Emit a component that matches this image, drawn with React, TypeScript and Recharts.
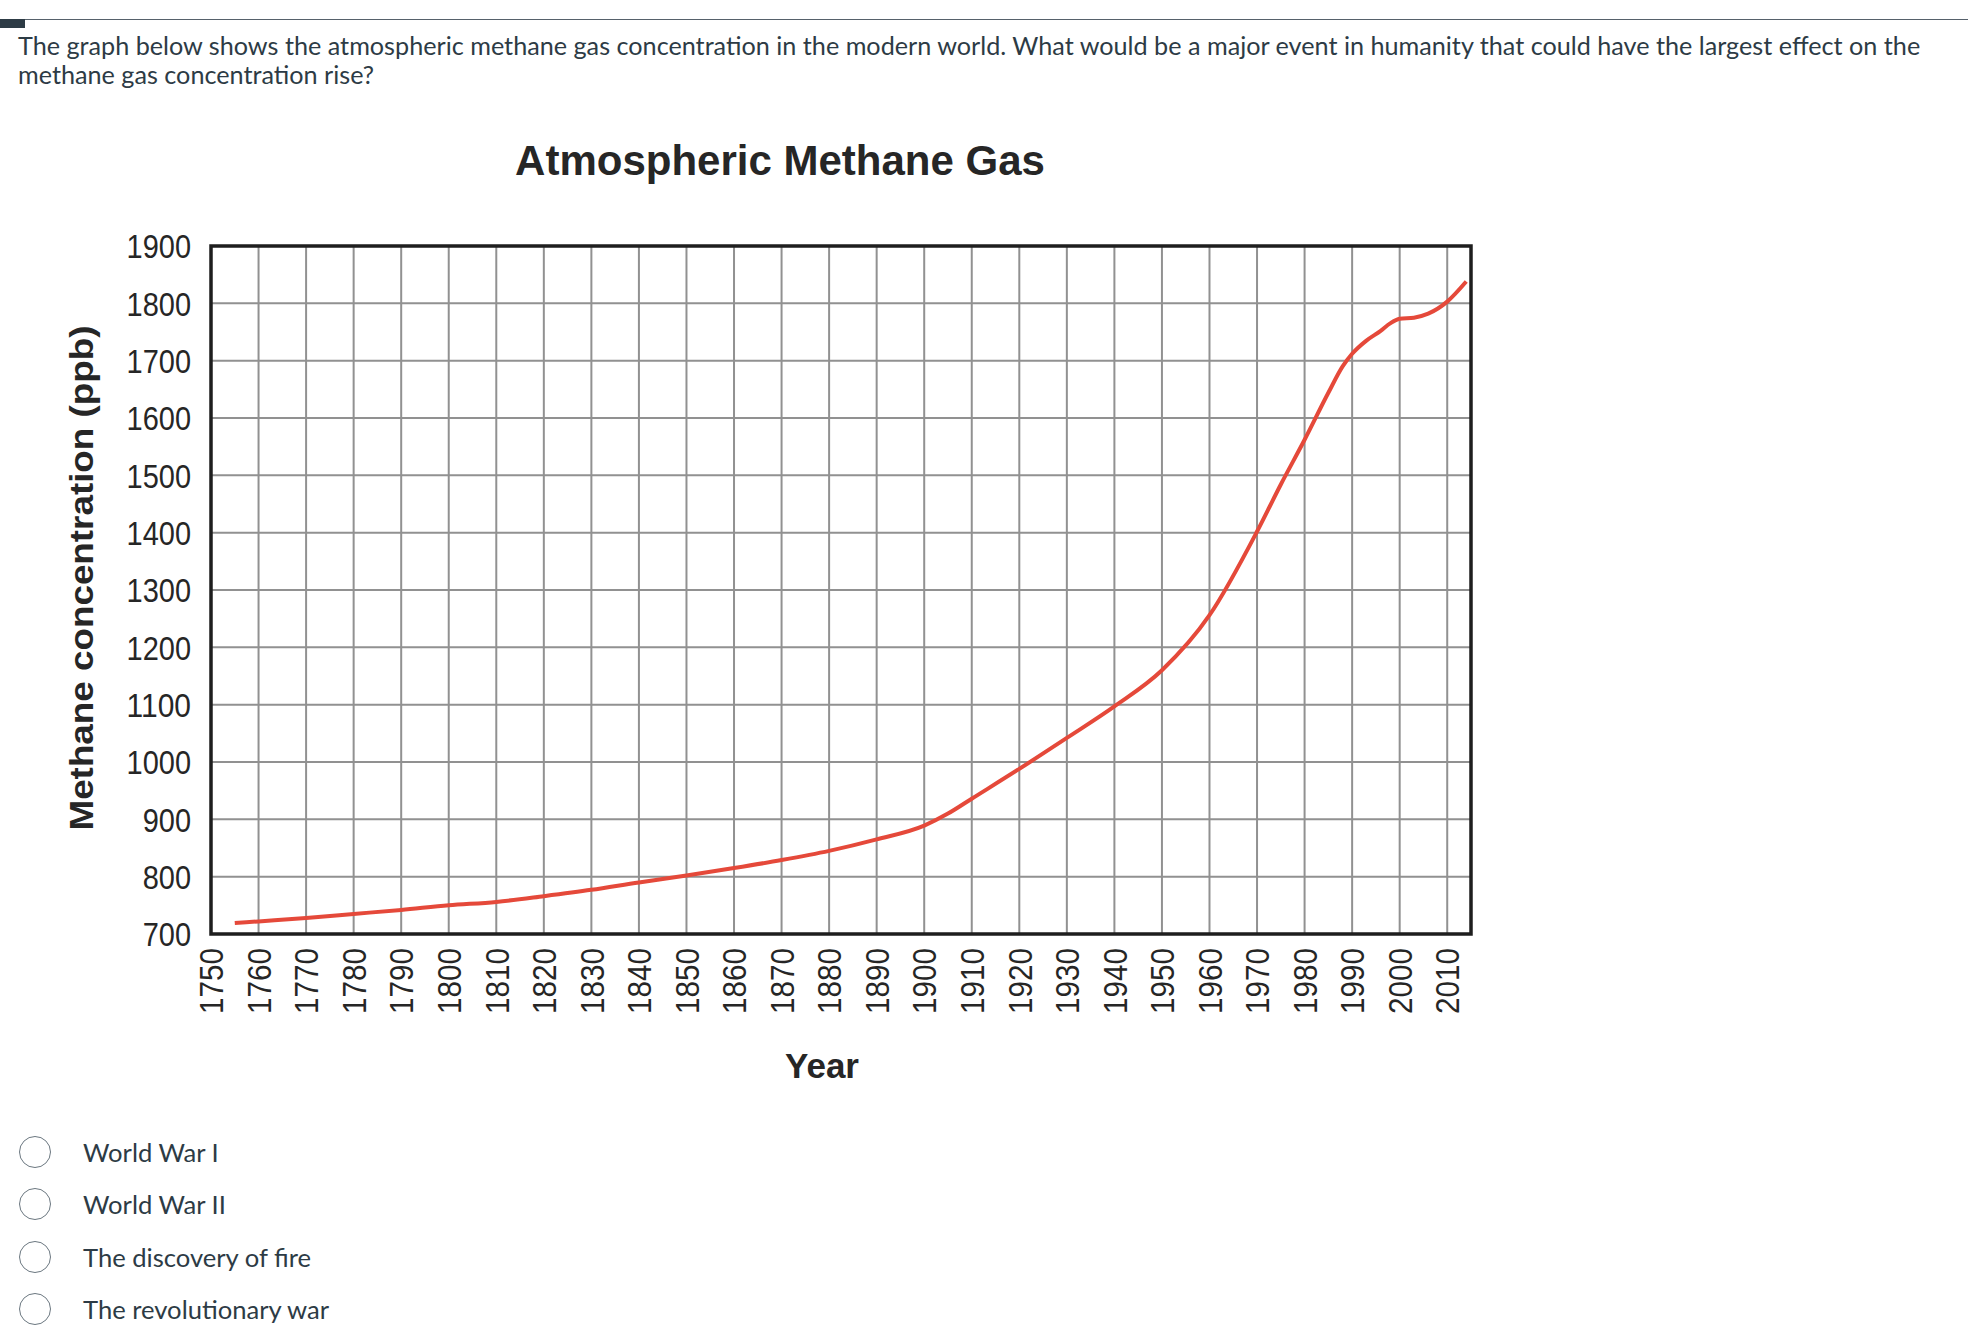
import React from 'react';
import { LineChart, Line, XAxis, YAxis, CartesianGrid, ReferenceArea, Label } from 'recharts';

// methane readings
const years = [1755, 1760, 1770, 1780, 1790, 1800, 1810, 1820, 1830, 1840, 1850, 1860, 1870, 1880, 1890, 1900, 1905, 1910, 1920, 1930, 1940, 1950, 1960, 1970, 1975, 1980, 1985, 1988, 1990, 1993, 1996, 1998, 2000, 2003, 2006, 2010, 2014];
const methane = [719, 722, 728, 735, 742, 750, 756, 766, 777, 790, 802, 815, 829, 845, 865, 889, 910, 936, 988, 1042, 1097, 1160, 1256, 1402, 1484, 1562, 1644, 1690, 1712, 1735, 1752, 1765, 1773, 1775, 1782, 1803, 1838];

const yearTicks = [1750, 1760, 1770, 1780, 1790, 1800, 1810, 1820, 1830, 1840, 1850, 1860, 1870, 1880, 1890, 1900, 1910, 1920, 1930, 1940, 1950, 1960, 1970, 1980, 1990, 2000, 2010];
const ppbTicks = [700, 800, 900, 1000, 1100, 1200, 1300, 1400, 1500, 1600, 1700, 1800, 1900];

const answers = ['World War I', 'World War II', 'The discovery of fire', 'The revolutionary war'];

const data = years.map((t, i) => ({ t, v: methane[i] }));

const ink = '#2d3b45';
const chartFont = '"Liberation Sans", Arial, Helvetica, sans-serif';
const labelInk = '#262626';

function YTick({ x, y, payload }: any) {
  const s = String(payload.value);
  return (
    <text x={x} y={y} dy="0.36em" textAnchor="end" fontFamily={chartFont} fontSize={34} fill={labelInk}
      textLength={s.length * 16.1} lengthAdjust="spacingAndGlyphs">{s}</text>
  );
}

function XTick({ x, y, payload }: any) {
  const s = String(payload.value);
  return (
    <text x={x} y={y} dy="0.36em" textAnchor="end" transform={`rotate(-90 ${x} ${y})`} fontFamily={chartFont}
      fontSize={34} fill={labelInk} textLength={s.length * 16.5} lengthAdjust="spacingAndGlyphs">{s}</text>
  );
}

function YLabel({ viewBox }: any) {
  const cx = viewBox.x + 10;
  const cy = viewBox.y + viewBox.height / 2 - 12;
  return (
    <text x={cx} y={cy} dy="0.36em" textAnchor="middle" transform={`rotate(-90 ${cx} ${cy})`} fontFamily={chartFont}
      fontWeight="bold" fontSize={34} fill={labelInk} textLength={505} lengthAdjust="spacingAndGlyphs">
      Methane concentration (ppb)
    </text>
  );
}

function XLabel({ viewBox }: any) {
  return (
    <text x={viewBox.x + viewBox.width / 2 - 19} y={viewBox.y + 144} textAnchor="middle" fontFamily={chartFont}
      fontWeight="bold" fontSize={35} fill={labelInk}>Year</text>
  );
}

export default function App() {
  return (
    <div style={{ position: 'absolute', left: 0, top: 0, width: 1968, height: 1328, background: '#fff', overflow: 'hidden' }}>
      <div style={{ position: 'absolute', left: 0, top: 19, width: 1968, height: 1, background: '#56616b' }} />
      <div style={{ position: 'absolute', left: 0, top: 19, width: 25, height: 9, background: ink }} />
      <div style={{ position: 'absolute', left: 18, top: 31, fontFamily: 'Lato, "Open Sans", sans-serif', fontSize: 25.2, lineHeight: '29px', color: ink, whiteSpace: 'nowrap' }}>
        The graph below shows the atmospheric methane gas concentration in the modern world. What would be a major event in humanity that could have the largest effect on the
        <br />
        methane gas concentration rise?
      </div>

      <div style={{ position: 'absolute', left: 0, top: 140, width: 1560, textAlign: 'center', fontFamily: chartFont, fontWeight: 'bold', fontSize: 42, lineHeight: '42px', color: labelInk }}>
        Atmospheric Methane Gas
      </div>

      <div style={{ position: 'absolute', left: 0, top: 0 }}>
        <LineChart width={1500} height={1100} data={data} margin={{ top: 246, right: 29, bottom: 16, left: 71 }}>
          <CartesianGrid stroke="#919191" strokeWidth={2} />
          <XAxis type="number" dataKey="t" domain={[1750, 2015]} ticks={yearTicks} interval={0} allowDataOverflow
            height={150} axisLine={false} tickLine={false} tickSize={0} tickMargin={14} tick={<XTick />}>
            <Label content={XLabel} />
          </XAxis>
          <YAxis type="number" domain={[700, 1900]} ticks={ppbTicks} interval={0} allowDataOverflow
            width={140} axisLine={false} tickLine={false} tickSize={0} tickMargin={20} tick={<YTick />}>
            <Label content={YLabel} />
          </YAxis>
          <ReferenceArea x1={1750} x2={2015} y1={700} y2={1900} fill="none" stroke="#1e1e1e" strokeWidth={3.5} ifOverflow="visible" />
          <Line type="monotone" dataKey="v" stroke="#e5493a" strokeWidth={4} dot={false} isAnimationActive={false} />
        </LineChart>
      </div>

      {answers.map((a, i) => {
        const cy = 1152 + i * 52.4;
        return (
          <React.Fragment key={a}>
            <div style={{ position: 'absolute', left: 19, top: cy - 16, width: 32, height: 32, boxSizing: 'border-box', border: '1.5px solid #6b7780', borderRadius: '50%' }} />
            <div style={{ position: 'absolute', left: 83, top: cy - 16, height: 32, lineHeight: '32px', fontFamily: 'Lato, "Open Sans", sans-serif', fontSize: 25.6, color: ink, whiteSpace: 'nowrap' }}>{a}</div>
          </React.Fragment>
        );
      })}
    </div>
  );
}
